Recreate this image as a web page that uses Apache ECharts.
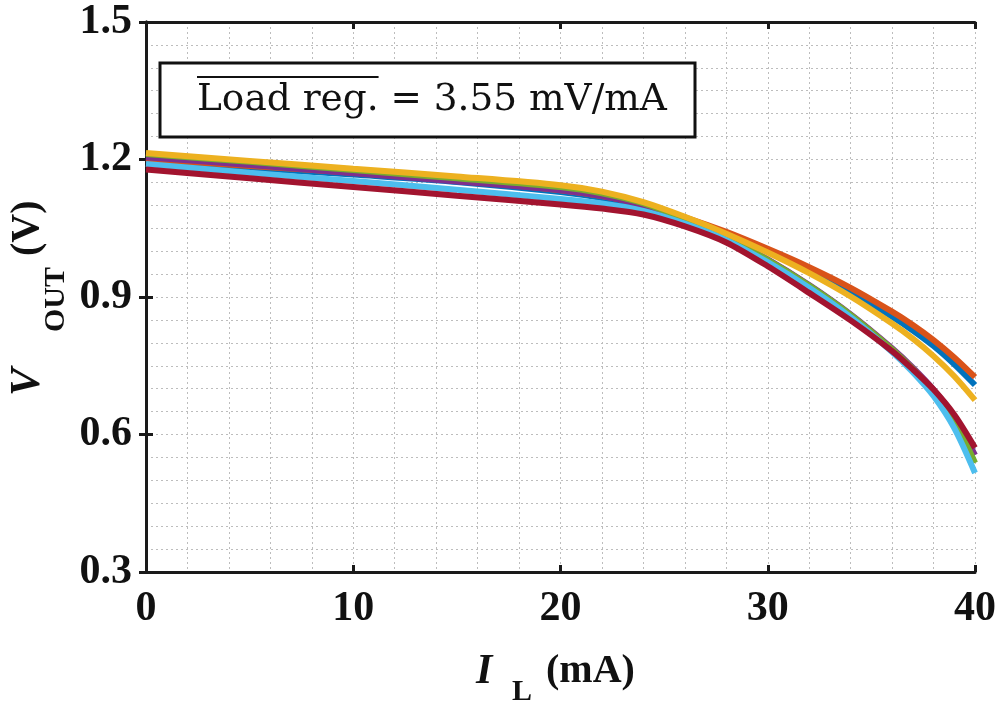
<!DOCTYPE html>
<html>
<head>
<meta charset="utf-8">
<script src="https://cdn.jsdelivr.net/npm/echarts@6/dist/echarts.min.js"></script>
<style>html,body{margin:0;padding:0;background:#fff}#c{width:999px;height:709px}</style>
</head>
<body>
<div id="c"></div>
<script>
// ---- data ----
const currentMA = [0,5,10,15,20,22,24,26,28,30,32,34,36,37,38,39,40];
const vBlue      = [1.197,1.182,1.167,1.151,1.129,1.116,1.097,1.070,1.038,1.000,0.958,0.911,0.857,0.827,0.793,0.753,0.708];
const vOrange    = [1.201,1.186,1.171,1.155,1.133,1.120,1.101,1.074,1.042,1.005,0.965,0.920,0.868,0.839,0.806,0.768,0.725];
const vYellow    = [1.214,1.197,1.180,1.163,1.144,1.130,1.107,1.075,1.038,0.997,0.952,0.901,0.842,0.809,0.771,0.727,0.675];
const vPurple    = [1.205,1.188,1.170,1.152,1.133,1.120,1.100,1.068,1.030,0.982,0.926,0.862,0.788,0.746,0.698,0.638,0.555];
const vGreen     = [1.212,1.195,1.177,1.159,1.140,1.126,1.104,1.070,1.030,0.981,0.925,0.861,0.786,0.743,0.693,0.630,0.538];
const vLightBlue = [1.190,1.171,1.153,1.134,1.114,1.104,1.088,1.060,1.024,0.976,0.920,0.856,0.780,0.736,0.684,0.614,0.516];
const vDarkRed   = [1.178,1.159,1.140,1.121,1.102,1.093,1.080,1.054,1.019,0.967,0.909,0.849,0.782,0.742,0.698,0.643,0.571];
const seriesNames = ['c1','c2','c3','c4','c5','c6','c7'];
const seriesVals = [vBlue, vOrange, vPurple, vGreen, vYellow, vLightBlue, vDarkRed];
const seriesColors = ['#0072BD','#D95319','#7E2F8E','#77AC30','#EDB120','#4DBEEE','#A2142F'];
const xTicks = [0,10,20,30,40];
const yTicks = [0.3,0.6,0.9,1.2,1.5];
const boxText1 = 'Load reg.';
const boxText2 = ' = 3.55 mV/mA';

const chart = echarts.init(document.getElementById('c'), null, {renderer:'canvas'});
const serifF = '"Liberation Serif", "Times New Roman", serif';
const boxF = '"DejaVu Serif", serif';

// fit box text to its width
const cv = document.createElement('canvas').getContext('2d');
cv.font = '40px ' + boxF;
const fullW = cv.measureText(boxText1 + boxText2).width;
const boxFontSize = Math.min(40, 40 * 470 / fullW);
cv.font = boxFontSize + 'px ' + boxF;
const w1 = cv.measureText(boxText1).width;

const gridLine = {show:true, lineStyle:{color:'#bdbdbd', type:[2,3], width:1}};
const common = {
  axisLine:{show:true, lineStyle:{color:'#1a1a1a', width:3}},
  axisTick:{show:true, inside:true, length:7, lineStyle:{color:'#1a1a1a', width:3}},
};

const option = {
  animation:false,
  backgroundColor:'#fff',
  grid:{left:146, right:22, top:22, bottom:137, show:false},
  xAxis:[{
    type:'value', min:xTicks[0], max:xTicks[xTicks.length-1], interval:10, position:'bottom',
    ...common,
    axisLabel:{show:true, fontFamily:serifF, fontWeight:'bold', fontSize:42, color:'#111', margin:16},
    splitLine:gridLine, minorSplitLine:gridLine, minorTick:{show:false, splitNumber:5}
  },{
    type:'value', min:0, max:40, interval:10, position:'top', ...common, axisLabel:{show:false}, splitLine:{show:false}
  }],
  yAxis:[{
    type:'value', min:yTicks[0], max:yTicks[yTicks.length-1], interval:0.3, position:'left',
    ...common,
    axisLabel:{show:true, fontFamily:serifF, fontWeight:'bold', fontSize:42, color:'#111', margin:14,
      formatter:v=>v.toFixed(1)},
    splitLine:gridLine, minorSplitLine:gridLine, minorTick:{show:false, splitNumber:6}
  },{
    type:'value', min:0.3, max:1.5, interval:0.3, position:'right', ...common, axisLabel:{show:false}, splitLine:{show:false}
  }],
  series: seriesVals.map((vals,i)=>({
    name:seriesNames[i], type:'line', smooth:0.3, symbol:'none', xAxisIndex:0, yAxisIndex:0,
    data: currentMA.map((x,j)=>[x, vals[j]]),
    lineStyle:{color:seriesColors[i], width:6},
    z: 2+i
  })),
  graphic:[
    {type:'rect', shape:{x:160, y:63, width:535, height:74}, style:{fill:'#fff', stroke:'#111', lineWidth:3}, z:100},
    {type:'text', x:197, y:100, style:{text:boxText1 + boxText2, font: boxFontSize+'px '+boxF, fill:'#111', verticalAlign:'middle', align:'left'}, z:101},
    {type:'line', shape:{x1:197, y1:77, x2:197+w1, y2:77}, style:{stroke:'#111', lineWidth:2}, z:101},
    // x title
    {type:'text', x:476, y:672, style:{text:'I', font:'italic bold 42px '+serifF, fill:'#111', verticalAlign:'middle'}, z:101},
    {type:'text', x:512, y:692, style:{text:'L', font:'bold 30px '+serifF, fill:'#111', verticalAlign:'middle'}, z:101},
    {type:'text', x:546, y:672, style:{text:'(mA)', font:'bold 40px '+serifF, fill:'#111', verticalAlign:'middle'}, z:101},
    // y title
    {type:'text', x:28, y:396, rotation:Math.PI/2, style:{text:'V', font:'italic bold 42px '+serifF, fill:'#111', verticalAlign:'middle', align:'left'}, z:101},
    {type:'text', x:56, y:332, rotation:Math.PI/2, style:{text:'OUT', font:'bold 30px '+serifF, fill:'#111', verticalAlign:'middle', align:'left'}, z:101},
    {type:'text', x:28, y:256, rotation:Math.PI/2, style:{text:'(V)', font:'bold 40px '+serifF, fill:'#111', verticalAlign:'middle', align:'left'}, z:101}
  ]
};
chart.setOption(option);
</script>
</body>
</html>
